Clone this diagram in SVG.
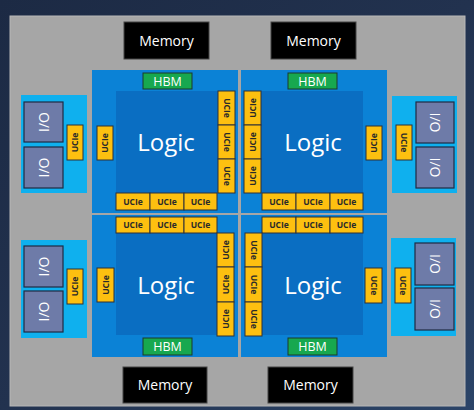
<svg xmlns="http://www.w3.org/2000/svg" width="474" height="410" viewBox="0 0 474 410">
<defs>
<linearGradient id="bg" x1="0" y1="0" x2="1" y2="1">
<stop offset="0" stop-color="#1c2a44"/>
<stop offset="0.5" stop-color="#22324f"/>
<stop offset="1" stop-color="#2b4468"/>
</linearGradient>
<style>
.mem{fill:#000;stroke:#444;stroke-width:1}
.memt{fill:#fff;font-family:"Open Sans","Noto Sans",sans-serif;font-size:14px;text-anchor:middle}
.tile{fill:#0b82d6}
.logic{fill:#0a6ec2}
.logt{fill:#fff;font-family:"Open Sans","Noto Sans",sans-serif;font-size:24px;text-anchor:middle}
.hbm{fill:#17a84f;stroke:#1d3b2a;stroke-width:1}
.hbmt{fill:#fff;font-family:"Open Sans","Noto Sans",sans-serif;font-size:12.5px;text-anchor:middle}
.u{fill:#fdc010;stroke:#2f3136;stroke-width:1}
.ut{fill:#2a2a2a;font-family:"Open Sans","Noto Sans",sans-serif;font-size:8.5px;font-weight:bold;text-anchor:middle}
.iop{fill:#0fb0ee}
.io{fill:#6e7ba8;stroke:#1f2a44;stroke-width:1.2}
.iot{fill:#fff;font-family:"Open Sans","Noto Sans",sans-serif;font-size:14px;text-anchor:middle}
</style>
</defs>
<rect x="0" y="0" width="474" height="410" fill="url(#bg)"/>
<rect x="10" y="16" width="455" height="390" fill="#a6a6a6" stroke="#b8b8b8" stroke-width="1"/>

<g id="mem-tl"><rect class="mem" x="124" y="22" width="85" height="37"/><text class="memt" x="166.5" y="45.5">Memory</text></g>
<g id="mem-tr"><rect class="mem" x="271" y="22" width="85" height="37"/><text class="memt" x="313.5" y="45.5">Memory</text></g>
<g id="mem-bl"><rect class="mem" x="123" y="367" width="84" height="36"/><text class="memt" x="165" y="390">Memory</text></g>
<g id="mem-br"><rect class="mem" x="268" y="367" width="85" height="36"/><text class="memt" x="310.5" y="390">Memory</text></g>

<!-- Top-left tile -->
<g id="tile-tl">
<rect class="tile" x="92" y="70" width="146" height="143"/>
<rect class="logic" x="116" y="91" width="102" height="102"/>
<text class="logt" x="166" y="151">Logic</text>
<rect class="hbm" x="143" y="73" width="49" height="16"/><text class="hbmt" x="167.5" y="85.5">HBM</text>
<rect class="u" x="97" y="126" width="16" height="34"/><text class="ut" transform="translate(108,143) rotate(-90)">UCIe</text>
<rect class="u" x="218" y="91" width="17" height="34"/><text class="ut" transform="translate(223.5,108) rotate(90)">UCIe</text>
<rect class="u" x="218" y="125" width="17" height="34"/><text class="ut" transform="translate(223.5,142) rotate(90)">UCIe</text>
<rect class="u" x="218" y="159" width="17" height="34"/><text class="ut" transform="translate(223.5,176) rotate(90)">UCIe</text>
<rect class="u" x="116" y="193" width="34" height="17"/><text class="ut" x="133" y="204.5">UCIe</text>
<rect class="u" x="150" y="193" width="34" height="17"/><text class="ut" x="167" y="204.5">UCIe</text>
<rect class="u" x="184" y="193" width="33" height="17"/><text class="ut" x="200.5" y="204.5">UCIe</text>
</g>

<!-- Top-right tile -->
<g id="tile-tr">
<rect class="tile" x="241" y="70" width="146" height="143"/>
<rect class="logic" x="261" y="91" width="102" height="102"/>
<text class="logt" x="313" y="151">Logic</text>
<rect class="hbm" x="288" y="73" width="49" height="16"/><text class="hbmt" x="312.5" y="85.5">HBM</text>
<rect class="u" x="244" y="91" width="17" height="34"/><text class="ut" transform="translate(255.5,108) rotate(-90)">UCIe</text>
<rect class="u" x="244" y="125" width="17" height="34"/><text class="ut" transform="translate(255.5,142) rotate(-90)">UCIe</text>
<rect class="u" x="244" y="159" width="17" height="34"/><text class="ut" transform="translate(255.5,176) rotate(-90)">UCIe</text>
<rect class="u" x="366" y="126" width="16" height="34"/><text class="ut" transform="translate(377,143) rotate(-90)">UCIe</text>
<rect class="u" x="262" y="193" width="34" height="17"/><text class="ut" x="279" y="204.5">UCIe</text>
<rect class="u" x="296" y="193" width="34" height="17"/><text class="ut" x="313" y="204.5">UCIe</text>
<rect class="u" x="330" y="193" width="33" height="17"/><text class="ut" x="346.5" y="204.5">UCIe</text>
</g>

<!-- Bottom-left tile -->
<g id="tile-bl">
<rect class="tile" x="92" y="215" width="146" height="142"/>
<rect class="logic" x="116" y="233" width="102" height="102"/>
<text class="logt" x="166" y="294">Logic</text>
<rect class="hbm" x="143" y="338" width="49" height="17"/><text class="hbmt" x="167.5" y="351">HBM</text>
<rect class="u" x="97" y="268" width="17" height="34"/><text class="ut" transform="translate(108.5,285) rotate(-90)">UCIe</text>
<rect class="u" x="116" y="217" width="34" height="16"/><text class="ut" x="133" y="228">UCIe</text>
<rect class="u" x="150" y="217" width="34" height="16"/><text class="ut" x="167" y="228">UCIe</text>
<rect class="u" x="184" y="217" width="33" height="16"/><text class="ut" x="200.5" y="228">UCIe</text>
<rect class="u" x="217" y="233" width="17" height="34"/><text class="ut" transform="translate(228.5,250) rotate(-90)">UCIe</text>
<rect class="u" x="217" y="267" width="17" height="35"/><text class="ut" transform="translate(228.5,284.5) rotate(-90)">UCIe</text>
<rect class="u" x="217" y="302" width="17" height="34"/><text class="ut" transform="translate(228.5,319) rotate(-90)">UCIe</text>
</g>

<!-- Bottom-right tile -->
<g id="tile-br">
<rect class="tile" x="241" y="215" width="146" height="142"/>
<rect class="logic" x="261" y="233" width="102" height="102"/>
<text class="logt" x="313" y="294">Logic</text>
<rect class="hbm" x="288" y="338" width="49" height="17"/><text class="hbmt" x="312.5" y="351">HBM</text>
<rect class="u" x="262" y="217" width="34" height="16"/><text class="ut" x="279" y="228">UCIe</text>
<rect class="u" x="296" y="217" width="34" height="16"/><text class="ut" x="313" y="228">UCIe</text>
<rect class="u" x="330" y="217" width="33" height="16"/><text class="ut" x="346.5" y="228">UCIe</text>
<rect class="u" x="245" y="233" width="17" height="34"/><text class="ut" transform="translate(250.5,250) rotate(90)">UCIe</text>
<rect class="u" x="245" y="267" width="17" height="35"/><text class="ut" transform="translate(250.5,284.5) rotate(90)">UCIe</text>
<rect class="u" x="245" y="302" width="17" height="34"/><text class="ut" transform="translate(250.5,319) rotate(90)">UCIe</text>
<rect class="u" x="365" y="268" width="17" height="35"/><text class="ut" transform="translate(370.5,285.5) rotate(90)">UCIe</text>
</g>

<!-- I/O panels -->
<g id="io-tl">
<rect class="iop" x="21" y="95" width="66" height="98"/>
<rect class="io" x="24" y="102" width="39" height="40"/><text class="iot" transform="translate(48.5,122) rotate(-90)">I/O</text>
<rect class="io" x="24" y="147" width="39" height="41"/><text class="iot" transform="translate(48.5,167.5) rotate(-90)">I/O</text>
<rect class="u" x="67" y="125" width="16" height="35"/><text class="ut" transform="translate(78,142.5) rotate(-90)">UCIe</text>
</g>
<g id="io-tr">
<rect class="iop" x="392" y="96" width="65" height="97"/>
<rect class="io" x="416" y="102" width="38" height="41"/><text class="iot" transform="translate(430,122.5) rotate(90)">I/O</text>
<rect class="io" x="416" y="147" width="38" height="41"/><text class="iot" transform="translate(430,167.5) rotate(90)">I/O</text>
<rect class="u" x="396" y="125" width="16" height="35"/><text class="ut" transform="translate(401,142.5) rotate(90)">UCIe</text>
</g>
<g id="io-bl">
<rect class="iop" x="21" y="240" width="66" height="98"/>
<rect class="io" x="24" y="246" width="39" height="41"/><text class="iot" transform="translate(48.5,266.5) rotate(-90)">I/O</text>
<rect class="io" x="24" y="291" width="39" height="41"/><text class="iot" transform="translate(48.5,311.5) rotate(-90)">I/O</text>
<rect class="u" x="67" y="269" width="16" height="35"/><text class="ut" transform="translate(78,286.5) rotate(-90)">UCIe</text>
</g>
<g id="io-br">
<rect class="iop" x="391" y="238" width="65" height="98"/>
<rect class="io" x="415" y="243" width="39" height="42"/><text class="iot" transform="translate(429.5,264) rotate(90)">I/O</text>
<rect class="io" x="415" y="288" width="39" height="42"/><text class="iot" transform="translate(429.5,309) rotate(90)">I/O</text>
<rect class="u" x="395" y="268" width="16" height="35"/><text class="ut" transform="translate(400,285.5) rotate(90)">UCIe</text>
</g>
<g id="connectors"/>
</svg>
